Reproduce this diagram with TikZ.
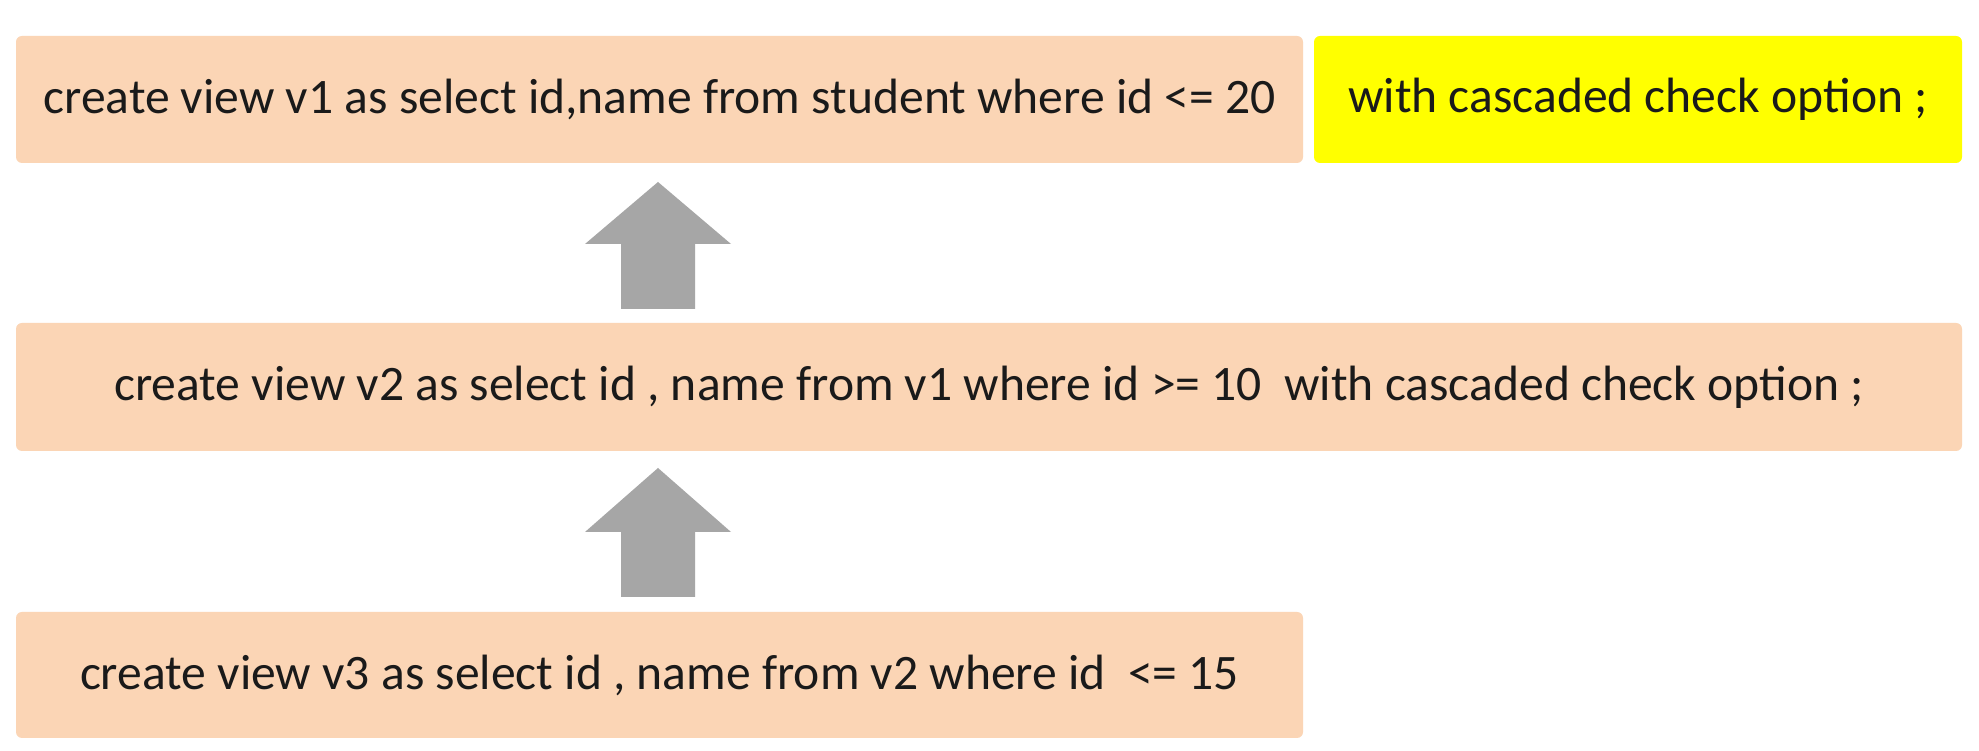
\documentclass[tikz,border=0pt]{standalone}
\usepackage{fontspec}
\setmainfont{Carlito}
\usetikzlibrary{calc}
\definecolor{peach}{HTML}{FBD5B5}
\definecolor{hiyellow}{HTML}{FFFF00}
\definecolor{arrowgray}{HTML}{A6A6A6}
\definecolor{txt}{HTML}{1A1A1A}
\tikzset{
  viewbox/.style={fill=peach, draw=none, rounded corners=6pt, inner sep=0pt,
    text=txt, font=\fontsize{49.6}{60}\selectfont},
  optbox/.style={viewbox, fill=hiyellow},
  blockarrow/.style={fill=arrowgray, draw=none}
}
\begin{document}
\begin{tikzpicture}[x=1pt,y=1pt]
\useasboundingbox (0,0) rectangle (1979,751);
\fill[white] (0,0) rectangle (1979,751);
% boxes
\node[viewbox, minimum width=1287pt, minimum height=127pt] (v1) at (659.5,651.5)
  {create view v1 as select id,name from student where id <= 20};
\node[optbox, minimum width=648pt, minimum height=127pt] (opt) at (1638,651.5)
  {with cascaded check option ;};
\node[viewbox, minimum width=1946pt, minimum height=128pt] (v2) at (989,364)
  {create view v2 as select id , name from v1 where id >= 10\ \ with cascaded check option ;};
\node[viewbox, minimum width=1287pt, minimum height=126pt] (v3) at (659.5,76)
  {create view v3 as select id , name from v2 where id\ \ <= 15};
% block arrows
\coordinate (a1) at (658,442);
\coordinate (a2) at (658,154);
\fill[blockarrow] (a1) ++(-37,0) -- ++(0,65) -- ++(-36,0) -- ($(a1)+(0,127)$)
  -- ($(a1)+(73,65)$) -- ++(-36,0) -- ++(0,-65) -- cycle;
\fill[blockarrow] (a2) ++(-37,0) -- ++(0,65) -- ++(-36,0) -- ($(a2)+(0,129)$)
  -- ($(a2)+(73,65)$) -- ++(-36,0) -- ++(0,-65) -- cycle;
\end{tikzpicture}
\end{document}
